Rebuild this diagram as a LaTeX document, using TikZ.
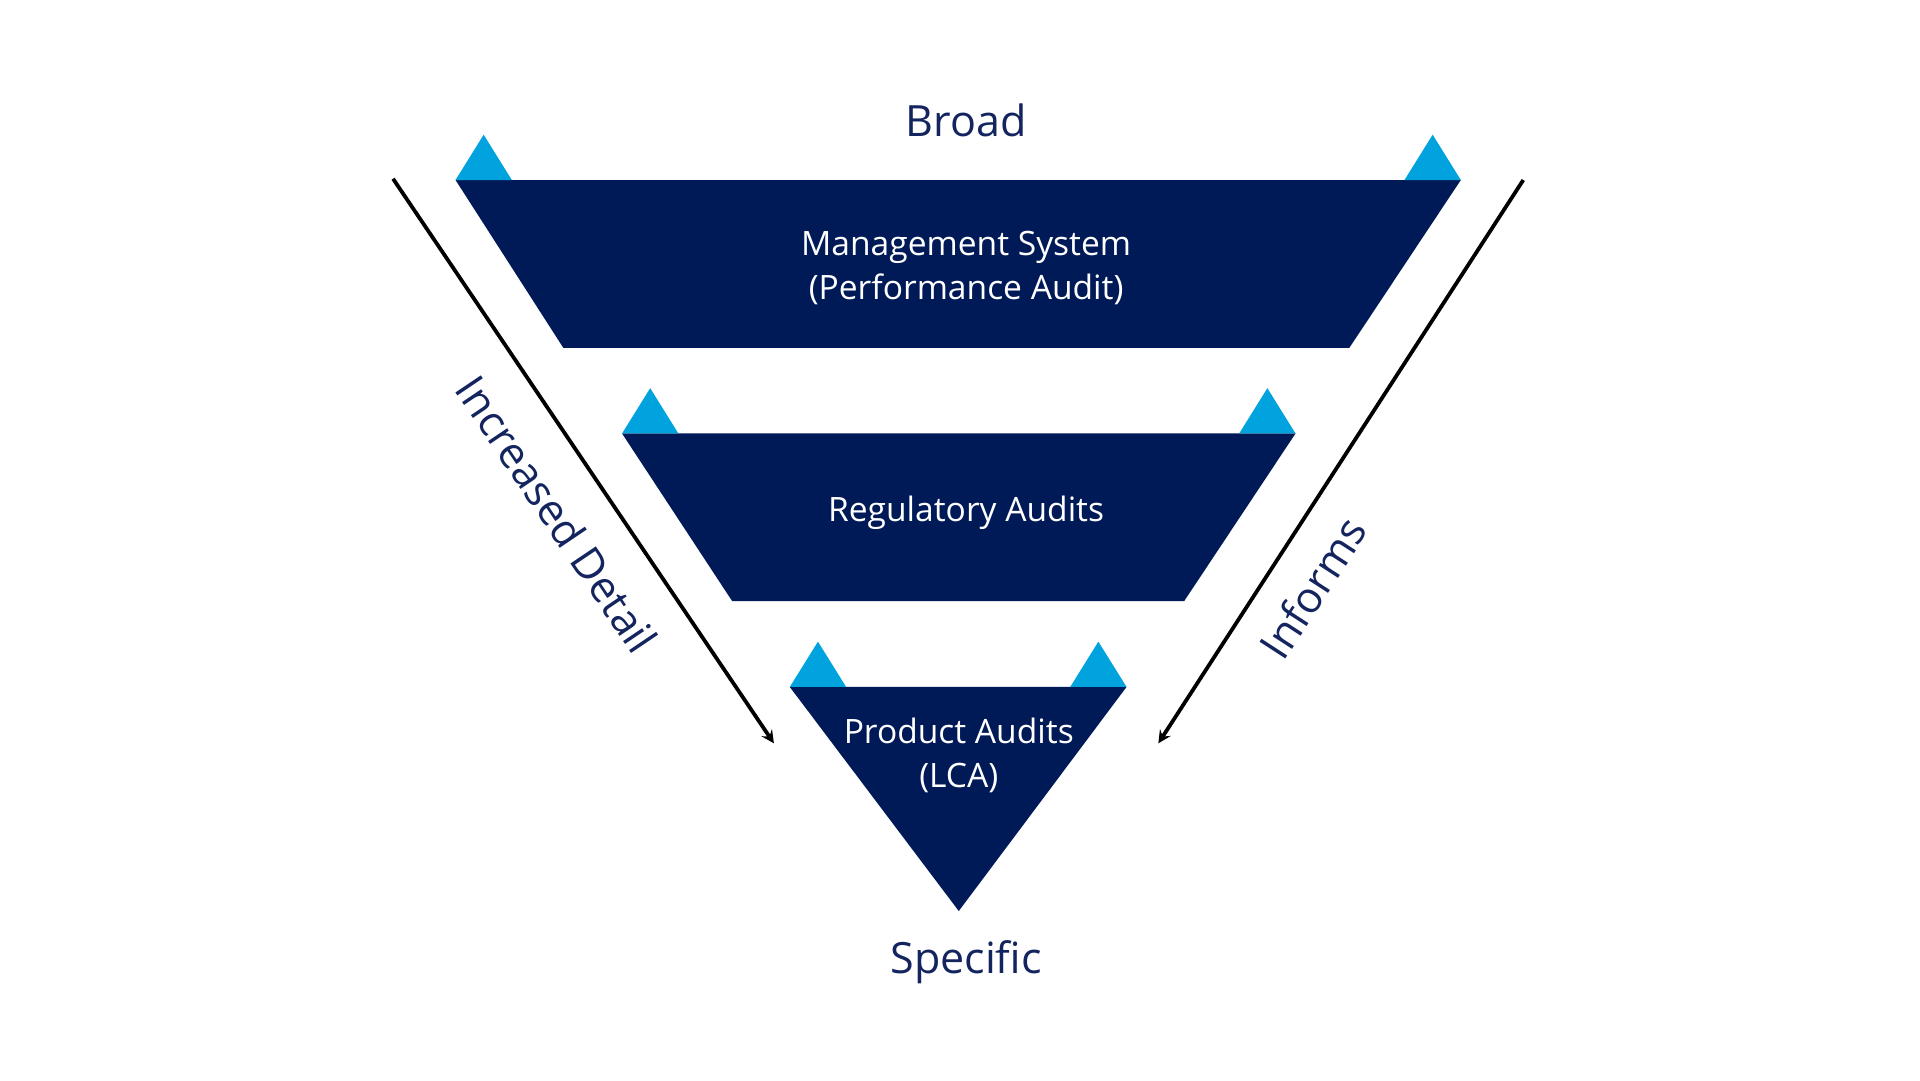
\documentclass[tikz,border=0pt]{standalone}
\usepackage{fontspec}
\setmainfont{Open Sans}
\definecolor{navy}{HTML}{001A57}
\definecolor{sky}{HTML}{00A3DD}
\definecolor{ink}{HTML}{13245F}
\tikzset{
  band/.style={fill=navy},
  tip/.style={fill=sky},
  inner/.style={text=white, align=center, font=\fontsize{19.5}{25.5}\selectfont},
  outer/.style={text=ink, font=\fontsize{25}{29}\selectfont},
  flow/.style={-stealth, line width=2.2pt}
}
\begin{document}
\begin{tikzpicture}[x=0.25mm, y=-0.25mm]
		\useasboundingbox (0,0) rectangle (1568,882);
		% bands
		\fill[band] (372,147) -- (1193,147) -- (1102,284) -- (460,284) -- cycle;
		\fill[band] (508,354) -- (1058,354) -- (967,491) -- (598,491) -- cycle;
		\fill[band] (645,561) -- (920,561) -- (783,744) -- cycle;
		% small triangles
		\foreach \l/\r/\y in {372/1147/147, 508/1012/354, 645/874/561}
		{
			\fill[tip] (\l,\y) -- (\l+23,\y-37) -- (\l+46,\y) -- cycle;
			\fill[tip] (\r,\y) -- (\r+23,\y-37) -- (\r+46,\y) -- cycle;
		}
		% labels in bands
		\node[inner] (mgmt) at (789,219) {Management System\\(Performance Audit)};
		\node[inner] (reg) at (789,419) {Regulatory Audits};
		\node[inner] (prod) at (783,617) {Product Audits\\(LCA)};
		\node[outer] (broad) at (789,98) {Broad};
		\node[outer] (spec) at (789,786) {Specific};
		% side arrows
		\coordinate (lA) at (321,146);
		\coordinate (lB) at (632,607);
		\coordinate (rA) at (1244,147);
		\coordinate (rB) at (946,607);
		\draw[flow] (lA) -- (lB);
		\draw[flow] (rA) -- (rB);
		\node[outer, rotate=-56] (detail) at (455,420) {Increased Detail};
		\node[outer, rotate=57] (informs) at (1072,480) {Informs};
	\end{tikzpicture}
\end{document}
